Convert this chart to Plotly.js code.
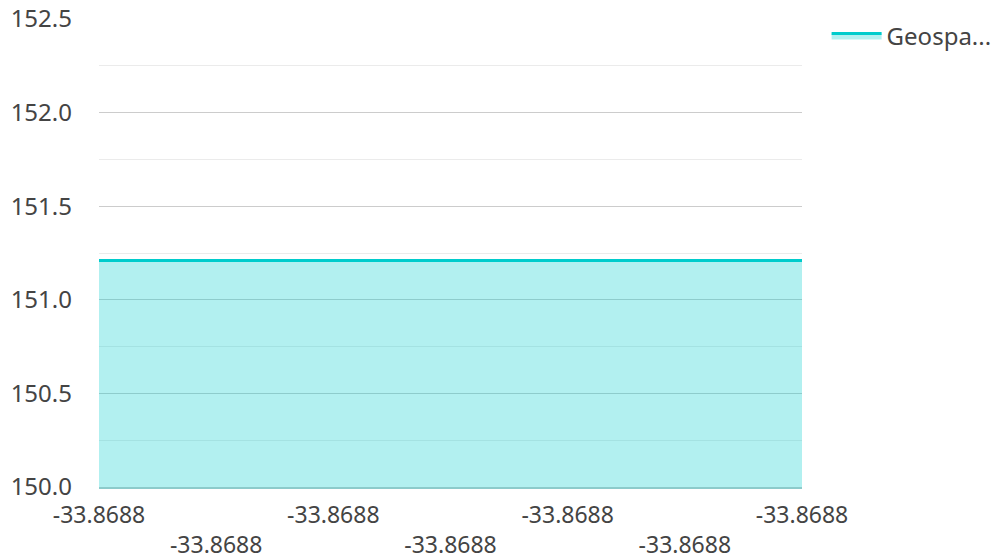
<!DOCTYPE html>
<html>
<head>
<meta charset="utf-8">
<script src="https://cdn.plot.ly/plotly-3.0.1.min.js"></script>
<style>html,body{margin:0;padding:0;background:#fff;}#chart{width:996px;height:560px;}</style>
</head>
<body>
<div id="chart"></div>
<script>
// Latitudes (all display as -33.8688) and longitudes of the series
const latitudes = [-33.86883, -33.86882, -33.86881, -33.8688, -33.86879, -33.86878, -33.86877];
const longitudes = [151.2093, 151.2093, 151.2093, 151.2093, 151.2093, 151.2093, 151.2093];
const seriesName = "Geospa...";
const yTickVals = [150.0, 150.5, 151.0, 151.5, 152.0, 152.5];

const xTickText = latitudes.map((v, i) => (i % 2 === 1 ? "<br>" : "") + v.toFixed(4));

const trace = {
  x: latitudes,
  y: longitudes,
  type: "scatter",
  mode: "lines",
  name: seriesName,
  fill: "tozeroy",
  fillcolor: "rgba(0,204,204,0.3)",
  line: {color: "#00cccc", width: 3},
  hoverinfo: "x+y"
};

const layout = {
  width: 996,
  height: 560,
  margin: {l: 99, r: 194, t: 19, b: 73, autoexpand: false},
  paper_bgcolor: "#fff",
  plot_bgcolor: "#fff",
  font: {family: "'Noto Sans', 'Open Sans', sans-serif", size: 24, color: "#444"},
  showlegend: true,
  legend: {x: 1.035, y: 1.012, xanchor: "left", yanchor: "top", itemwidth: 50, font: {size: 24, color: "#444"}},
  xaxis: {
    range: [latitudes[0], latitudes[latitudes.length - 1]],
    tickmode: "array",
    tickvals: latitudes,
    ticktext: xTickText,
    showgrid: false,
    zeroline: false,
    showline: true,
    linecolor: "#8ccbcb",
    linewidth: 2,
    ticks: "",
    ticklabelstandoff: 6,
    tickfont: {size: 23, color: "#444"}
  },
  yaxis: {
    range: [150.0, 152.5],
    tickmode: "array",
    tickvals: yTickVals,
    ticktext: yTickVals.map(v => v.toFixed(1)),
    showgrid: true,
    gridcolor: "#cccccc",
    gridwidth: 1,
    zeroline: false,
    showline: false,
    ticks: "",
    ticklabelstandoff: 26,
    minor: {dtick: 0.25, showgrid: true, gridcolor: "#ebebeb", gridwidth: 1, ticks: ""},
    tickfont: {size: 24, color: "#444"}
  }
};

Plotly.newPlot("chart", [trace], layout, {displayModeBar: false, staticPlot: true});
</script>
</body>
</html>
